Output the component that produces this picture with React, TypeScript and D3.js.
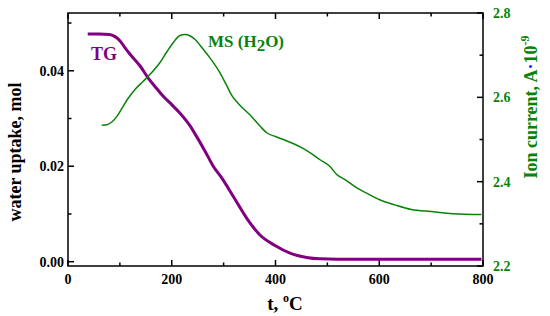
import React, { useEffect, useRef } from "react";
import * as d3 from "d3";

// TG curve: temperature (°C) and water uptake (mol)
const tgTemp = [38, 60, 80, 90, 100, 110, 120, 139, 155, 170, 184, 200, 216, 235, 248, 265, 280, 296, 319, 344, 370, 399, 428, 460, 486, 520, 600, 700, 797];
const tgUptake = [0.0477, 0.0477, 0.0476, 0.0472, 0.0463, 0.0448, 0.0434, 0.041, 0.0384, 0.0364, 0.0346, 0.0329, 0.0311, 0.0285, 0.0262, 0.023, 0.02, 0.0176, 0.0136, 0.0092, 0.0056, 0.0034, 0.0018, 0.0009, 0.0006, 0.0005, 0.0005, 0.0005, 0.0005];

// MS (H2O) curve: temperature (°C) and ion current (A·10^-9)
const msTemp = [65, 75, 85, 95, 105, 115, 130, 145, 160, 177, 190, 203, 215, 225, 235, 245, 260, 274, 293, 305, 315, 330, 351, 370, 383, 400, 415, 435, 453, 470, 486, 505, 518, 534, 556, 580, 601, 630, 662, 700, 742, 797];
const msCurrent = [2.534, 2.535, 2.542, 2.556, 2.576, 2.596, 2.62, 2.638, 2.657, 2.682, 2.707, 2.73, 2.746, 2.749, 2.746, 2.737, 2.715, 2.693, 2.658, 2.63, 2.606, 2.583, 2.558, 2.532, 2.516, 2.507, 2.5, 2.49, 2.479, 2.466, 2.452, 2.436, 2.417, 2.405, 2.386, 2.37, 2.357, 2.345, 2.334, 2.329, 2.324, 2.322];

const xTicks = [0, 200, 400, 600, 800];
const xMinor = [100, 300, 500, 700];
const leftTicks = [0, 0.02, 0.04];
const leftMinor = [0.01, 0.03, 0.05];
const rightTicks = [2.2, 2.4, 2.6, 2.8];
const rightMinor = [2.3, 2.5, 2.7];

const PURPLE = "#800080";
const GREEN = "#0a820a";
const FONT = "'Liberation Serif', 'Times New Roman', serif";

function Chart() {
  const svgRef = useRef<SVGSVGElement>(null);

  useEffect(() => {
    const svg = d3.select(svgRef.current);
    svg.selectAll("*").remove();

    const left = 68, right = 483, top = 13, bottom = 266;

    const x = d3.scaleLinear().domain([0, 800]).range([left, right]);
    const yL = d3.scaleLinear().domain([-0.0009, 0.0521]).range([bottom, top]);
    const yR = d3.scaleLinear().domain([2.2, 2.8]).range([bottom, top]);

    const g = svg.append("g").attr("font-family", FONT).attr("font-weight", "bold");

    // frame
    g.append("rect")
      .attr("x", left).attr("y", top)
      .attr("width", right - left).attr("height", bottom - top)
      .attr("fill", "none").attr("stroke", "#000").attr("stroke-width", 1.5);

    // bottom / top ticks (inward)
    const tickX = (vals: number[], len: number) => {
      vals.forEach((v) => {
        g.append("line").attr("x1", x(v)).attr("x2", x(v)).attr("y1", bottom).attr("y2", bottom - len)
          .attr("stroke", "#000").attr("stroke-width", 1.5);
        g.append("line").attr("x1", x(v)).attr("x2", x(v)).attr("y1", top).attr("y2", top + len)
          .attr("stroke", "#000").attr("stroke-width", 1.5);
      });
    };
    tickX(xTicks, 6);
    tickX(xMinor, 3.5);

    xTicks.forEach((v) => {
      g.append("text").attr("x", x(v)).attr("y", 284)
        .attr("text-anchor", "middle").attr("font-size", 14).text(v);
    });

    // left axis ticks
    const tickL = (vals: number[], len: number) => {
      vals.forEach((v) => {
        g.append("line").attr("x1", left).attr("x2", left + len).attr("y1", yL(v)).attr("y2", yL(v))
          .attr("stroke", "#000").attr("stroke-width", 1.5);
      });
    };
    tickL(leftTicks, 6);
    tickL(leftMinor, 3.5);
    leftTicks.forEach((v) => {
      g.append("text").attr("x", 64).attr("y", yL(v)).attr("dy", "0.35em")
        .attr("text-anchor", "end").attr("font-size", 14).text(d3.format(".2f")(v));
    });

    // right axis ticks
    const tickR = (vals: number[], len: number) => {
      vals.forEach((v) => {
        g.append("line").attr("x1", right).attr("x2", right - len).attr("y1", yR(v)).attr("y2", yR(v))
          .attr("stroke", "#000").attr("stroke-width", 1.5);
      });
    };
    tickR(rightTicks, 6);
    tickR(rightMinor, 3.5);
    rightTicks.forEach((v) => {
      g.append("text").attr("x", 493).attr("y", yR(v)).attr("dy", "0.35em")
        .attr("fill", GREEN).attr("font-size", 14).text(d3.format(".1f")(v));
    });

    // curves
    const tgLine = d3.line<number>()
      .x((d, i) => x(tgTemp[i]))
      .y((d) => yL(d))
      .curve(d3.curveMonotoneX);
    g.append("path").datum(tgUptake).attr("d", tgLine)
      .attr("fill", "none").attr("stroke", PURPLE).attr("stroke-width", 3);

    const msLine = d3.line<number>()
      .x((d, i) => x(msTemp[i]))
      .y((d) => yR(d))
      .curve(d3.curveMonotoneX);
    g.append("path").datum(msCurrent).attr("d", msLine)
      .attr("fill", "none").attr("stroke", GREEN).attr("stroke-width", 1.5);

    // series labels
    g.append("text").attr("x", 91).attr("y", 60).attr("fill", PURPLE).attr("font-size", 18).text("TG");
    const ms = g.append("text").attr("x", 208).attr("y", 47).attr("fill", GREEN).attr("font-size", 17);
    ms.append("tspan").text("MS (H");
    ms.append("tspan").attr("dy", 4).text("2");
    ms.append("tspan").attr("dy", -4).text("O)");

    // axis titles
    const xt = g.append("text").attr("x", 285).attr("y", 310).attr("text-anchor", "middle").attr("font-size", 19);
    xt.append("tspan").text("t, ");
    xt.append("tspan").attr("font-size", 12).attr("dy", -8).text("o");
    xt.append("tspan").attr("dy", 8).text("C");

    g.append("text")
      .attr("transform", "translate(21,152) rotate(-90)")
      .attr("text-anchor", "middle").attr("font-size", 18)
      .text("water uptake, mol");

    const rt = g.append("text")
      .attr("transform", "translate(537,107) rotate(-90)")
      .attr("text-anchor", "middle").attr("font-size", 18).attr("fill", GREEN);
    rt.append("tspan").text("Ion current, A");
    rt.append("tspan").attr("fill", "#1a1aff").text("·");
    rt.append("tspan").text("10");
    rt.append("tspan").attr("font-size", 12).attr("dy", -8).text("-9");
  }, []);

  return (
    <svg
      ref={svgRef}
      width={550}
      height={316}
      style={{ position: "absolute", left: 0, top: 0, background: "#fff" }}
    ></svg>
  );
}

export default function App() {
  return <Chart />;
}
